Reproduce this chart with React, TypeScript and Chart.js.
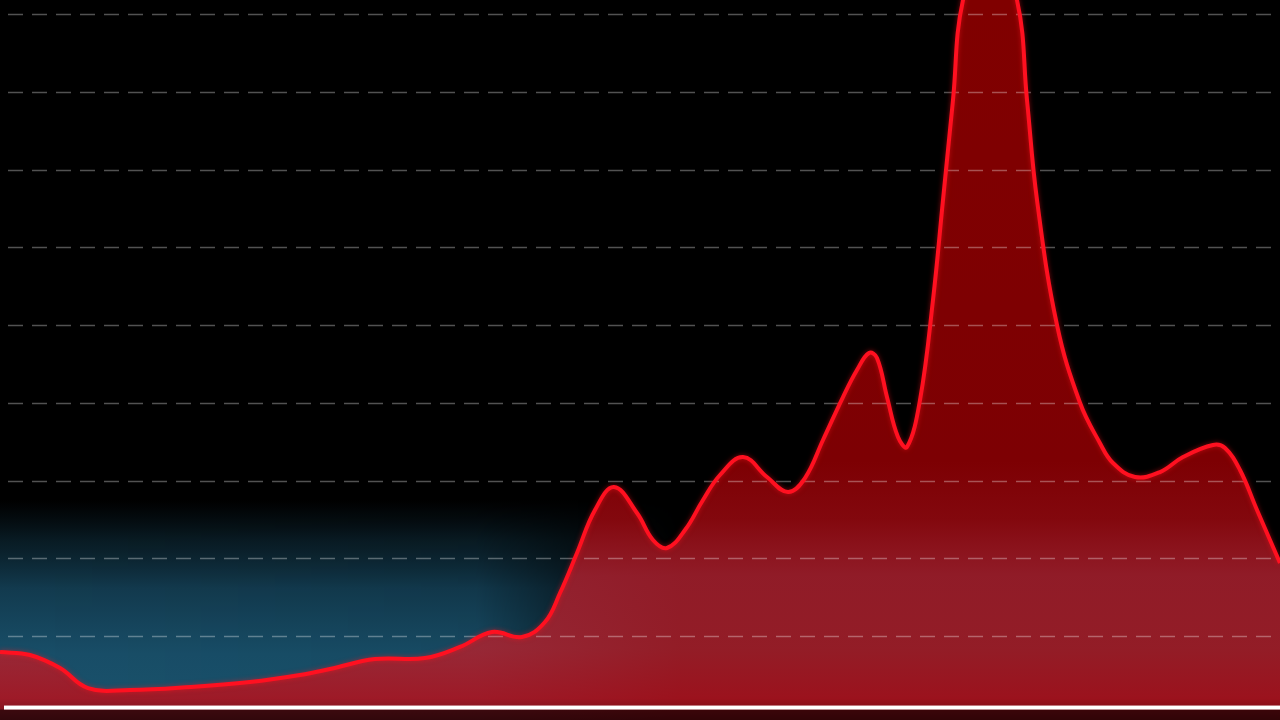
import React, { useEffect, useRef } from "react";
import { Chart, registerables } from "chart.js";

Chart.register(...registerables);

// x positions (data space 0..1280) and values (grid step = 10)
const xs: number[] = [
  0, 30, 60, 88, 130, 191, 250, 300, 330, 375, 425, 460, 492, 522, 545, 560, 577, 595, 614, 637,
  653, 667, 685, 703, 720, 743, 767, 788, 805, 823, 843, 857, 869, 877, 887, 898, 907, 920, 933,
  943, 953, 963, 990, 1017, 1027, 1037, 1057, 1080, 1100, 1113, 1135, 1160, 1183, 1213, 1225,
  1240, 1257, 1280,
];
const values: number[] = [
  7.94, 7.56, 5.88, 3.31, 3.05, 3.44, 4.08, 4.98, 5.76, 7.04, 7.17, 8.59, 10.51, 9.87, 11.8,
  15.53, 20.68, 26.21, 29.16, 25.82, 22.35, 21.32, 23.63, 27.49, 30.71, 33.02, 30.45, 28.52,
  30.32, 35.21, 40.74, 44.21, 46.4, 45.76, 40.74, 35.59, 34.31, 40.35, 53.22, 66.08, 78.94,
  91.8, 100.8, 91.8, 78.94, 66.08, 50.0, 40.0, 34.8, 32.25, 30.45, 31.09, 33.02, 34.57,
  34.18, 31.35, 26.21, 19.39,
];
const gridValues: number[] = [10, 20, 30, 40, 50, 60, 70, 80, 90];
const Y_MIN = -0.8;
const Y_MAX = 91.8;
const AXIS_VALUE = 0.8;

let glowCanvas: HTMLCanvasElement | null = null;
function getGlow(w: number, h: number) {
  if (glowCanvas) return glowCanvas;
  const c = document.createElement("canvas");
  c.width = w;
  c.height = h;
  const g = c.getContext("2d")!;
  const v = g.createLinearGradient(0, 500, 0, 720);
  v.addColorStop(0, "rgba(10,30,40,0)");
  v.addColorStop(0.18, "rgba(12,38,50,0.7)");
  v.addColorStop(0.4, "rgba(18,58,78,1)");
  v.addColorStop(0.7, "rgba(24,78,104,1)");
  v.addColorStop(1, "rgba(26,84,110,1)");
  g.fillStyle = v;
  g.fillRect(0, 500, w, 220);
  g.globalCompositeOperation = "destination-in";
  const hgr = g.createLinearGradient(0, 0, 680, 0);
  hgr.addColorStop(0, "rgba(0,0,0,1)");
  hgr.addColorStop(0.7, "rgba(0,0,0,0.95)");
  hgr.addColorStop(0.85, "rgba(0,0,0,0.5)");
  hgr.addColorStop(1, "rgba(0,0,0,0)");
  g.fillStyle = hgr;
  g.fillRect(0, 0, w, h);
  glowCanvas = c;
  return c;
}

const backgroundPlugin = {
  id: "bgGlow",
  beforeDraw(chart: any) {
    const { ctx, width, height } = chart;
    ctx.save();
    ctx.fillStyle = "#000000";
    ctx.fillRect(0, 0, width, height);
    ctx.drawImage(getGlow(width, height), 0, 0);
    ctx.restore();
  },
};

const gridPlugin = {
  id: "dashGrid",
  beforeDatasetsDraw(chart: any) {
    const { ctx, chartArea } = chart;
    const y = chart.scales.y;
    ctx.save();
    ctx.strokeStyle = "rgba(255,255,255,0.32)";
    ctx.lineWidth = 1.5;
    ctx.setLineDash([15, 9]);
    for (const v of gridValues) {
      const py = Math.round(y.getPixelForValue(v)) + 0.5;
      ctx.beginPath();
      ctx.moveTo(chartArea.left + 8, py);
      ctx.lineTo(chartArea.right, py);
      ctx.stroke();
    }
    ctx.restore();
  },
  beforeDatasetDraw(chart: any) {
    const ctx = chart.ctx;
    ctx.save();
    ctx.shadowColor = "rgba(255,20,30,0.5)";
    ctx.shadowBlur = 5;
  },
  afterDatasetDraw(chart: any) {
    chart.ctx.restore();
  },
  afterDatasetsDraw(chart: any) {
    const { ctx, chartArea } = chart;
    const y = chart.scales.y;
    const py = y.getPixelForValue(AXIS_VALUE);
    ctx.save();
    ctx.fillStyle = "rgba(0,0,0,0.55)";
    ctx.fillRect(chartArea.left, py + 2, chartArea.right - chartArea.left, chartArea.bottom - py);
    ctx.fillStyle = "#ffffff";
    ctx.fillRect(chartArea.left + 4, py - 2, chartArea.right - chartArea.left, 4);
    ctx.restore();
  },
};

export default function App() {
  const ref = useRef<HTMLCanvasElement | null>(null);
  useEffect(() => {
    if (!ref.current) return;
    document.body.style.margin = "0";
    document.body.style.background = "#000";
    const chart = new Chart(ref.current, {
      type: "line",
      data: {
        datasets: [
          {
            data: xs.map((x, i) => ({ x, y: values[i] })),
            borderColor: "#ff1020",
            borderWidth: 4,
            pointRadius: 0,
            tension: 0.4,
            fill: "start",
            backgroundColor: (c: any) => {
              const ctx = c.chart.ctx;
              const g = ctx.createLinearGradient(0, 0, 0, 720);
              g.addColorStop(0, "rgba(128,0,0,1)");
              g.addColorStop(0.64, "rgba(125,0,3,1)");
              g.addColorStop(0.72, "rgba(135,8,14,0.97)");
              g.addColorStop(0.8, "rgba(168,32,46,0.86)");
              g.addColorStop(0.9, "rgba(175,34,46,0.84)");
              g.addColorStop(0.97, "rgba(172,20,32,0.9)");
              g.addColorStop(1, "rgba(120,10,18,0.9)");
              return g;
            },
          },
        ],
      },
      options: {
        animation: false,
        responsive: false,
        devicePixelRatio: 1,
        layout: { padding: 0 },
        plugins: {
          legend: { display: false },
          tooltip: { enabled: false },
          filler: { drawTime: "beforeDatasetsDraw" },
        } as any,
        scales: {
          x: { type: "linear", min: 0, max: 1280, display: false },
          y: { min: Y_MIN, max: Y_MAX, display: false },
        },
      },
      plugins: [backgroundPlugin, gridPlugin],
    });
    return () => chart.destroy();
  }, []);
  return (
    <div style={{ position: "fixed", left: 0, top: 0, width: 1280, height: 720, background: "#000" }}>
      <canvas ref={ref} width={1280} height={720} style={{ display: "block" }} />
    </div>
  );
}
